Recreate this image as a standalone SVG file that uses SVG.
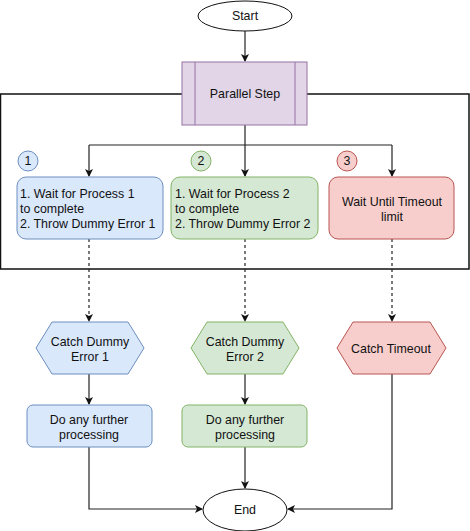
<svg xmlns="http://www.w3.org/2000/svg" width="470" height="531" viewBox="0 0 470 531">
<style>
text{font-family:"Liberation Sans",Arial,sans-serif;font-size:12.4px;fill:#111}
.c{text-anchor:middle}
.ln{fill:none;stroke:#222;stroke-width:1.2}
.dash{stroke-dasharray:3,3}
.blue{fill:#dae8fc;stroke:#6c8ebf}
.green{fill:#d5e8d4;stroke:#82b366}
.red{fill:#f8cecc;stroke:#b85450}
.purple{fill:#e1d5e7;stroke:#9673a6}
.wt{fill:#fff;stroke:#111}
</style>
<defs>
<marker id="ah" markerWidth="8" markerHeight="8" refX="7" refY="4" orient="auto" markerUnits="userSpaceOnUse">
<path d="M0,0 L8,4 L0,8 L2,4 Z" fill="#111"/>
</marker>
</defs>
<rect x="0" y="0" width="470" height="531" fill="#fff"/>
<g id="container"><rect x="0.5" y="94" width="468.5" height="175" fill="none" stroke="#111" stroke-width="1.5"/></g>
<g id="connectors">
<path class="ln" d="M245,31 V61" marker-end="url(#ah)"/>
<path class="ln" d="M245,125 V145 M89,145 H392"/>
<path class="ln" d="M89,145 V176" marker-end="url(#ah)"/>
<path class="ln" d="M245,145 V176" marker-end="url(#ah)"/>
<path class="ln" d="M392,145 V176" marker-end="url(#ah)"/>
<path class="ln dash" d="M89,239 V321" marker-end="url(#ah)"/>
<path class="ln dash" d="M245,239 V321" marker-end="url(#ah)"/>
<path class="ln dash" d="M392,239 V321" marker-end="url(#ah)"/>
<path class="ln" d="M89,374 V404" marker-end="url(#ah)"/>
<path class="ln" d="M245,374 V404" marker-end="url(#ah)"/>
<path class="ln" d="M89,447 V509 H202" marker-end="url(#ah)"/>
<path class="ln" d="M245,447 V488" marker-end="url(#ah)"/>
<path class="ln" d="M392,374 V509 H288" marker-end="url(#ah)"/>
</g>
<g id="start"><ellipse class="wt" cx="245" cy="16" rx="47" ry="15"/><text class="c" x="245" y="20">Start</text></g>
<g id="parallel"><rect class="purple" x="182" y="62" width="125" height="63"/><path d="M195,62 V125 M295,62 V125" stroke="#9673a6" fill="none"/><text class="c" x="245" y="98">Parallel Step</text></g>
<g id="badge1"><circle class="blue" cx="28" cy="161" r="10"/><text class="c" x="28" y="165">1</text></g>
<g id="badge2"><circle class="green" cx="201" cy="161" r="10"/><text class="c" x="201" y="165">2</text></g>
<g id="badge3"><circle class="red" cx="347" cy="161" r="10"/><text class="c" x="347" y="165">3</text></g>
<g id="branch1"><rect class="blue" x="17" y="177" width="146" height="62" rx="9"/><text x="20" y="198">1. Wait for Process 1</text><text x="20" y="213">to complete</text><text x="20" y="228">2. Throw Dummy Error 1</text></g>
<g id="branch2"><rect class="green" x="171" y="177" width="147" height="62" rx="9"/><text x="175" y="198">1. Wait for Process 2</text><text x="175" y="213">to complete</text><text x="175" y="228">2. Throw Dummy Error 2</text></g>
<g id="branch3"><rect class="red" x="329" y="177" width="125" height="62" rx="9"/><text class="c" x="392" y="206">Wait Until Timeout</text><text class="c" x="392" y="221">limit</text></g>
<g id="catch1"><polygon class="blue" points="36,348 52,322 128,322 144,348 128,374 52,374"/><text class="c" x="90" y="346">Catch Dummy</text><text class="c" x="90" y="361">Error 1</text></g>
<g id="catch2"><polygon class="green" points="191,348 207,322 283,322 299,348 283,374 207,374"/><text class="c" x="245" y="346">Catch Dummy</text><text class="c" x="245" y="361">Error 2</text></g>
<g id="catch3"><polygon class="red" points="337,348 353,322 430,322 446,348 430,374 353,374"/><text class="c" x="391" y="353">Catch Timeout</text></g>
<g id="process1"><rect class="blue" x="27" y="405" width="125" height="42" rx="6"/><text class="c" x="89" y="424">Do any further</text><text class="c" x="89" y="439">processing</text></g>
<g id="process2"><rect class="green" x="182" y="405" width="125" height="42" rx="6"/><text class="c" x="245" y="424">Do any further</text><text class="c" x="245" y="439">processing</text></g>
<g id="end"><ellipse class="wt" cx="245" cy="510" rx="42" ry="21"/><text class="c" x="245" y="514">End</text></g>
</svg>
